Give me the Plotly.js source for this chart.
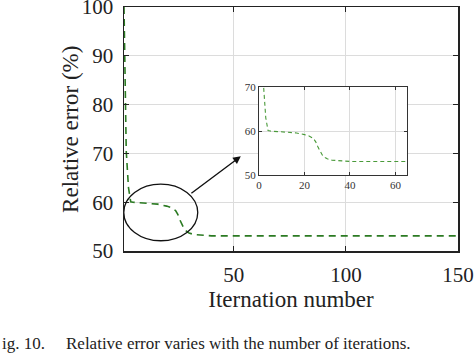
<!DOCTYPE html>
<html><head><meta charset="utf-8">
<script src="https://cdn.plot.ly/plotly-3.0.1.min.js"></script>
<style>html,body{margin:0;padding:0;background:#fff}</style>
</head><body><div id="chart" style="width:474px;height:354px"></div>
<script>
// Data
const iterations = [1,2,3,4,5,8,12,16,20,22,24,25,26,27,28,29,30,32,34,36,40,45,50,60,80,100,120,150];
const relError   = [100,70.5,63,60.1,60,59.9,59.8,59.6,59.2,58.9,58.3,57.5,56.3,55.2,54.4,54,53.7,53.4,53.3,53.2,53.1,53.1,53.1,53.1,53.1,53.1,53.1,53.1];
const xTicks = [50,100,150];
const yTicks = [50,60,70,80,90,100];
const insetXTicks = [0,20,40,60];
const insetYTicks = [50,60,70];
const zoomRegion = {x0:0.9, x1:33.9, y0:52.1, y1:63.7};
const arrowFrom = {x:30.4, y:61.6};
const arrowTo = {x:53.1, y:69.4};
const xTitle = "Iternation number";
const yTitle = "Relative error (%)";
const caption1 = "ig. 10.";
const caption2 = "Relative error varies with the number of iterations.";

const green = '#2b7a22';
const serif = 'Liberation Serif, Times New Roman, serif';

const traces = [
  {x: iterations, y: relError, type:'scatter', mode:'lines', xaxis:'x', yaxis:'y',
   line:{color:green, width:1.6, dash:'7px,5px'}, hoverinfo:'skip'},
  {x: iterations, y: relError, type:'scatter', mode:'lines', xaxis:'x2', yaxis:'y2',
   line:{color:'#4a9a3a', width:1.1, dash:'4px,3px'}, hoverinfo:'skip'}
];

const layout = {
  width:474, height:354,
  margin:{l:124, r:16, t:7, b:103},
  paper_bgcolor:'#fff', plot_bgcolor:'#fff',
  showlegend:false,
  font:{family:serif, color:'#222'},
  xaxis:{range:[1,150], domain:[0,1], tickvals:xTicks, ticks:'inside', ticklen:5, tickcolor:'#222',
    showline:true, linecolor:'#222', linewidth:1.5, mirror:'ticks', showgrid:true, gridcolor:'#dcdcdc',
    zeroline:false, tickfont:{size:21, family:serif, color:'#222'}, ticklabelstandoff:4,
    title:{text:xTitle, font:{size:23, family:serif, color:'#222'}, standoff:2}},
  yaxis:{range:[50,100], domain:[0,1], tickvals:yTicks, ticks:'inside', ticklen:5, tickcolor:'#222',
    showline:true, linecolor:'#222', linewidth:1.5, mirror:'ticks', showgrid:true, gridcolor:'#dcdcdc',
    zeroline:false, tickfont:{size:21, family:serif, color:'#222'}, ticklabeloverflow:'allow',
    ticklabelstandoff:5},
  xaxis2:{range:[0,65], domain:[0.404,0.847], anchor:'y2', tickvals:insetXTicks, ticks:'inside', ticklen:3,
    tickcolor:'#333', showline:true, linecolor:'#333', linewidth:1, mirror:'ticks', showgrid:true,
    gridcolor:'#dcdcdc', zeroline:false, tickfont:{size:11, family:serif, color:'#333'}},
  yaxis2:{range:[50,70], domain:[0.311,0.672], anchor:'x2', tickvals:insetYTicks, ticks:'inside', ticklen:3,
    tickcolor:'#333', showline:true, linecolor:'#333', linewidth:1, mirror:'ticks', showgrid:true,
    gridcolor:'#dcdcdc', zeroline:false, tickfont:{size:11, family:serif, color:'#333'}},
  shapes:[
    {type:'rect', xref:'x2 domain', yref:'y2 domain', x0:0, x1:1, y0:0, y1:1, layer:'below',
     fillcolor:'#fff', line:{width:0}},
    {type:'circle', xref:'x', yref:'y', x0:zoomRegion.x0, x1:zoomRegion.x1, y0:zoomRegion.y0, y1:zoomRegion.y1,
     line:{color:'#111', width:1.3}, layer:'above'}
  ],
  annotations:[
    {xref:'x', yref:'y', axref:'x', ayref:'y', x:arrowTo.x, y:arrowTo.y, ax:arrowFrom.x, ay:arrowFrom.y,
     showarrow:true, arrowhead:2, arrowsize:1.1, arrowwidth:1.4, arrowcolor:'#111', text:''},
    {xref:'paper', yref:'paper', x:-0.162, y:0.5, xanchor:'center', yanchor:'middle', textangle:-90,
     showarrow:false, text:yTitle, font:{size:23, family:serif, color:'#222'}},
    {xref:'paper', yref:'paper', x:-0.371, y:-0.378, xanchor:'left', yanchor:'middle', showarrow:false,
     text:caption1, font:{size:17, family:serif, color:'#222'}},
    {xref:'paper', yref:'paper', x:-0.18, y:-0.378, xanchor:'left', yanchor:'middle', showarrow:false,
     text:caption2, font:{size:17, family:serif, color:'#222'}}
  ]
};
Plotly.newPlot('chart', traces, layout, {displayModeBar:false, staticPlot:true});
</script>
</body></html>
